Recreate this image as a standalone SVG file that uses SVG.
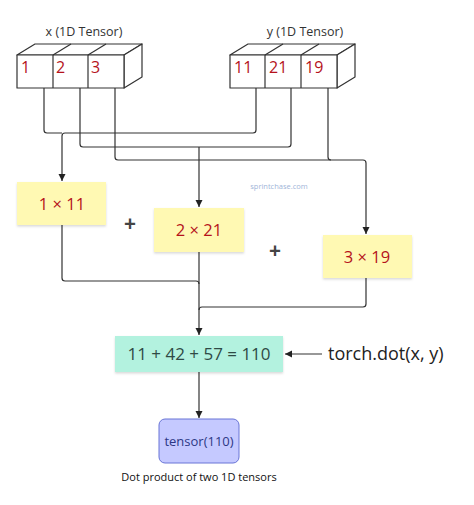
<svg xmlns="http://www.w3.org/2000/svg" width="474" height="505" viewBox="0 0 474 505">
<defs>
<marker id="arr" markerWidth="8" markerHeight="8" refX="7" refY="4" orient="auto" markerUnits="userSpaceOnUse">
<path d="M0,0.5 L7,4 L0,7.5 Z" fill="#222"/>
</marker>
<filter id="sh" x="-10%" y="-10%" width="130%" height="140%">
<feDropShadow dx="0" dy="1.5" stdDeviation="1" flood-color="#000" flood-opacity="0.15"/>
</filter>
<style>
.t{font-family:"Open Sans","Noto Sans","Liberation Sans",sans-serif}
.cube{fill:#fff;stroke:#333;stroke-width:1.2;stroke-linejoin:round}
.num{font-size:16px;font-weight:500;fill:#b5121b}
.lbl{font-size:12.5px;fill:#333}
.yel{fill:#fff9b3}
.mul{font-size:16.5px;fill:#b5121b;text-anchor:middle}
.plus{font-size:21px;font-weight:700;fill:#444;text-anchor:middle}
.con{fill:none;stroke:#333;stroke-width:1.2;stroke-linejoin:round}
</style>
</defs>
<rect width="474" height="505" fill="#fff"/>

<g id="x-tensor">
<text class="t lbl" x="84" y="36" text-anchor="middle">x (1D Tensor)</text>
<polygon class="cube" points="17,55 35,44 142,44 124,55"/>
<polygon class="cube" points="124,55 142,44 142,77 124,88"/>
<rect class="cube" x="17" y="55" width="107" height="33"/>
<line class="cube" x1="53" y1="55" x2="53" y2="88"/>
<line class="cube" x1="88" y1="55" x2="88" y2="88"/>
<line class="cube" x1="53" y1="55" x2="71" y2="44"/>
<line class="cube" x1="88" y1="55" x2="106" y2="44"/>
<text class="t num" x="21" y="73">1</text>
<text class="t num" x="56" y="73">2</text>
<text class="t num" x="91" y="73">3</text>
</g>

<g id="y-tensor">
<text class="t lbl" x="305" y="36" text-anchor="middle">y (1D Tensor)</text>
<polygon class="cube" points="230,55 248,44 355,44 337,55"/>
<polygon class="cube" points="337,55 355,44 355,77 337,88"/>
<rect class="cube" x="230" y="55" width="107" height="33"/>
<line class="cube" x1="265" y1="55" x2="265" y2="88"/>
<line class="cube" x1="301" y1="55" x2="301" y2="88"/>
<line class="cube" x1="265" y1="55" x2="283" y2="44"/>
<line class="cube" x1="301" y1="55" x2="319" y2="44"/>
<text class="t num" x="234" y="73">11</text>
<text class="t num" x="269" y="73">21</text>
<text class="t num" x="305" y="73">19</text>
</g>

<g id="connectors">
<path class="con" d="M44,88 V130 Q44,133 47,133 H62"/>
<path class="con" d="M256,88 V130 Q256,133 253,133 H65 Q62,133 62,136 V181" marker-end="url(#arr)"/>
<path class="con" d="M80,88 V144 Q80,147 83,147 H288 Q291,147 291,144 V88"/>
<path class="con" d="M199,147 V207" marker-end="url(#arr)"/>
<path class="con" d="M115,88 V157 Q115,160 118,160 H363 Q366,160 366,163 V234" marker-end="url(#arr)"/>
<path class="con" d="M328,88 V157 Q328,160 331,160"/>
<path class="con" d="M62,225 V278 Q62,281 65,281 H196 Q199,281 199,284"/>
<path class="con" d="M366,278 V304 Q366,307 363,307 H202 Q199,307 199,310"/>
<path class="con" d="M199,252 V335" marker-end="url(#arr)"/>
<path class="con" d="M199,372 V418" marker-end="url(#arr)"/>
<path class="con" d="M322,354 H285" marker-end="url(#arr)"/>
</g>

<g id="mul1">
<rect class="yel" x="17" y="182" width="89" height="43" filter="url(#sh)"/>
<text class="t mul" x="62" y="210">1 × 11</text>
</g>
<g id="mul2">
<rect class="yel" x="154" y="208" width="90" height="44" filter="url(#sh)"/>
<text class="t mul" x="199" y="236">2 × 21</text>
</g>
<g id="mul3">
<rect class="yel" x="323" y="235" width="89" height="43" filter="url(#sh)"/>
<text class="t mul" x="367" y="263">3 × 19</text>
</g>
<text class="t plus" x="130" y="231">+</text>
<text class="t plus" x="275" y="258">+</text>
<text class="t" x="279" y="189" font-size="7.5" fill="#9fb6d9" text-anchor="middle">sprintchase.com</text>

<g id="sum">
<rect x="115" y="336" width="168" height="36" fill="#b3f2df" filter="url(#sh)"/>
<text class="t" x="199" y="360" font-size="17" fill="#2f4a45" text-anchor="middle">11 + 42 + 57 = 110</text>
</g>
<g id="torch-dot">
<text class="t" x="328" y="360" font-size="18" fill="#222">torch.dot(x, y)</text>
</g>

<g id="result">
<rect x="159" y="419" width="80" height="44" rx="6" fill="#c5c9ff" stroke="#6874d6" stroke-width="1"/>
<text class="t" x="199" y="446" font-size="13" fill="#2c3785" text-anchor="middle">tensor(110)</text>
</g>
<text class="t" x="199" y="481" font-size="11" font-weight="500" fill="#111" text-anchor="middle">Dot product of two 1D tensors</text>
</svg>
